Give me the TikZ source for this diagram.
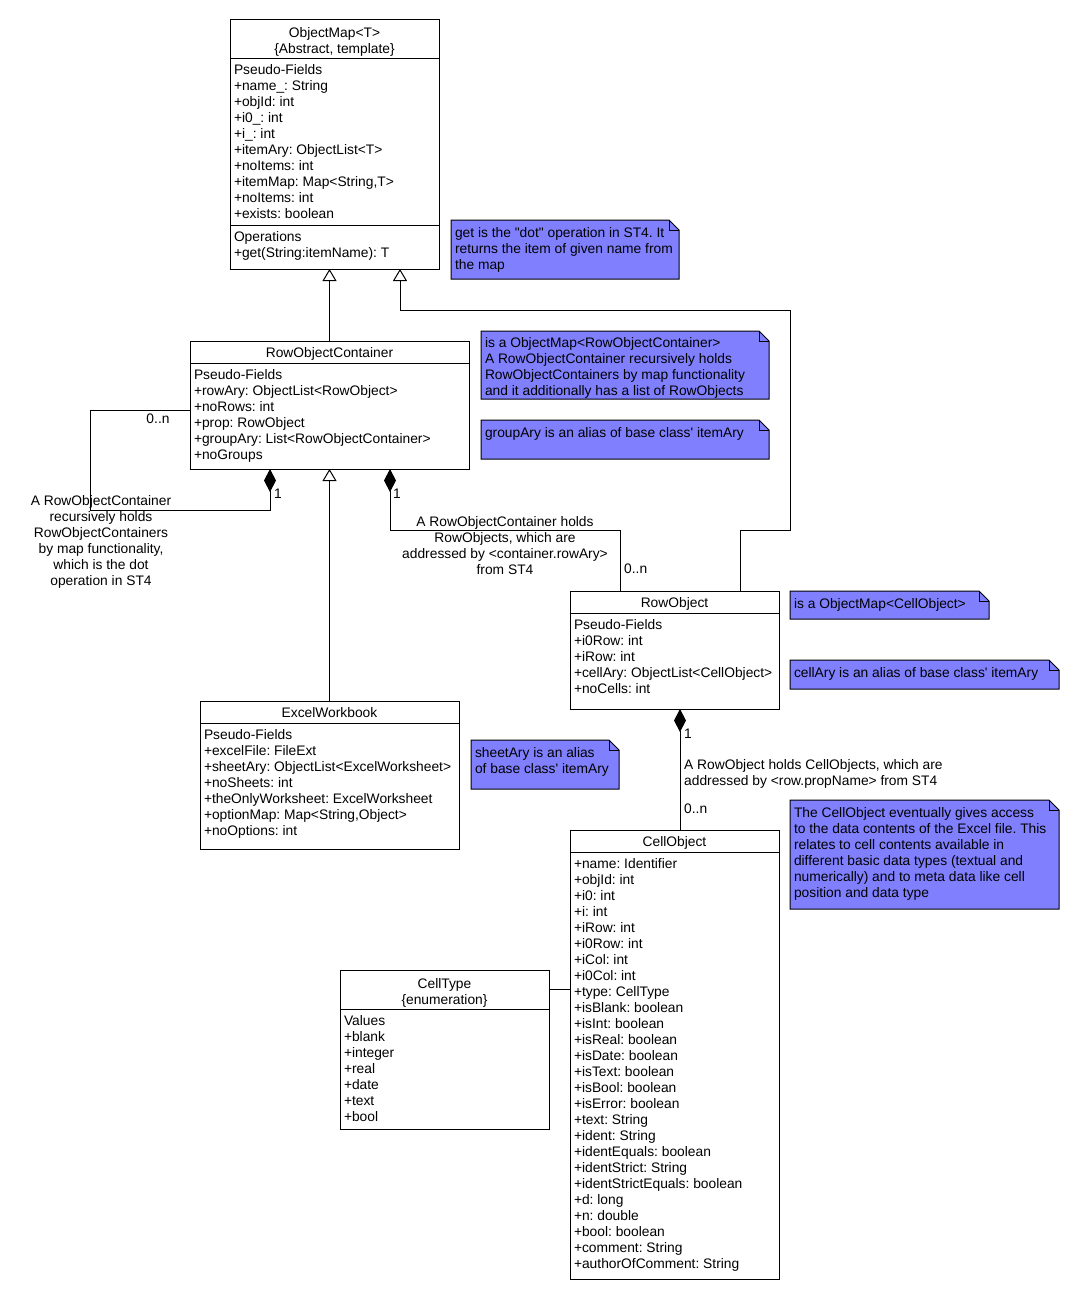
\documentclass[tikz,border=0pt]{standalone}
\usepackage{fontspec}
\newfontfamily\umlsans{Liberation Sans}
\usetikzlibrary{positioning,arrows.meta,backgrounds}
\frenchspacing

\definecolor{notecolor}{RGB}{128,128,255}
\newcommand{\umlfont}{\umlsans\fontsize{13.8}{16}\selectfont}
% compartments: height, width, first baseline, lines
\newcommand{\compleft}[4]{\parbox[c][#1][t]{#2}{\raggedright\rule{0pt}{#3}#4}}
\newcommand{\compmid}[4]{\parbox[c][#1][t]{#2}{\centering\rule{0pt}{#3}#4}}

\tikzset{
  classpart/.style={draw, line width=1pt, inner xsep=4pt, inner ysep=0pt, outer sep=0pt, font=\umlfont, anchor=north west},
  notebox/.style={inner xsep=4pt, inner ysep=0pt, outer sep=0pt, font=\umlfont, anchor=north west},
  notefill/.style={draw, fill=notecolor, line width=1pt},
  gen/.style={-{Triangle[open,length=12pt,width=14pt]}, line width=1pt},
  comp/.style={-{Diamond[length=23pt,width=12pt]}, line width=1pt},
  assoc/.style={line width=1pt},
  mult/.style={font=\umlfont, inner sep=0pt},
}

\begin{document}
\begin{tikzpicture}[x=1pt,y=-1pt]
   \useasboundingbox (0,0) rectangle (1080,1300);

   % classes
   \node[classpart] (om-t) at (230,20) {\compmid{39pt}{201pt}{18pt}{ObjectMap<T>\\\{Abstract, template\}}};
   \node[classpart, below=0pt of om-t] (om-f) {\compleft{166pt}{201pt}{16pt}{Pseudo-Fields\\+name\_: String\\+objId: int\\+i0\_: int\\+i\_: int\\+itemAry: ObjectList<T>\\+noItems: int\\+itemMap: Map<String,T>\\+noItems: int\\+exists: boolean}};
   \node[classpart, below=0pt of om-f] (om-o) {\compleft{44pt}{201pt}{16pt}{Operations\\+get(String:itemName): T}};

   \node[classpart] (roc-t) at (190,341) {\compmid{22pt}{271pt}{16pt}{RowObjectContainer}};
   \node[classpart, below=0pt of roc-t] (roc-f) {\compleft{106pt}{271pt}{16pt}{Pseudo-Fields\\+rowAry: ObjectList<RowObject>\\+noRows: int\\+prop: RowObject\\+groupAry: List<RowObjectContainer>\\+noGroups}};

   \node[classpart] (ro-t) at (570,591) {\compmid{22pt}{201pt}{16pt}{RowObject}};
   \node[classpart, below=0pt of ro-t] (ro-f) {\compleft{96pt}{201pt}{16pt}{Pseudo-Fields\\+i0Row: int\\+iRow: int\\+cellAry: ObjectList<CellObject>\\+noCells: int}};

   \node[classpart] (ew-t) at (200,701) {\compmid{22pt}{251pt}{16pt}{ExcelWorkbook}};
   \node[classpart, below=0pt of ew-t] (ew-f) {\compleft{126pt}{251pt}{16pt}{Pseudo-Fields\\+excelFile: FileExt\\+sheetAry: ObjectList<ExcelWorksheet>\\+noSheets: int\\+theOnlyWorksheet: ExcelWorksheet\\+optionMap: Map<String,Object>\\+noOptions: int}};

   \node[classpart] (co-t) at (570,830) {\compmid{22pt}{201pt}{16pt}{CellObject}};
   \node[classpart, below=0pt of co-t] (co-f) {\compleft{427pt}{201pt}{16pt}{+name: Identifier\\+objId: int\\+i0: int\\+i: int\\+iRow: int\\+i0Row: int\\+iCol: int\\+i0Col: int\\+type: CellType\\+isBlank: boolean\\+isInt: boolean\\+isReal: boolean\\+isDate: boolean\\+isText: boolean\\+isBool: boolean\\+isError: boolean\\+text: String\\+ident: String\\+identEquals: boolean\\+identStrict: String\\+identStrictEquals: boolean\\+d: long\\+n: double\\+bool: boolean\\+comment: String\\+authorOfComment: String}};

   \node[classpart] (ct-t) at (340,970) {\compmid{39pt}{201pt}{18pt}{CellType\\\{enumeration\}}};
   \node[classpart, below=0pt of ct-t] (ct-f) {\compleft{120pt}{201pt}{16pt}{Values\\+blank\\+integer\\+real\\+date\\+text\\+bool}};

   % notes
   \node[notebox] (n-get) at (451,220) {\compleft{59pt}{220pt}{17.5pt}{get is the "dot" operation in ST4. It\\returns the item of given name from\\the map}};
   \node[notebox] (n-roc) at (481,331) {\compleft{68pt}{280pt}{16.5pt}{is a ObjectMap<RowObjectContainer>\\A RowObjectContainer recursively holds\\RowObjectContainers by map functionality\\and it additionally has a list of RowObjects}};
   \node[notebox] (n-group) at (481,420) {\compleft{39pt}{280pt}{17.5pt}{groupAry is an alias of base class' itemAry}};
   \node[notebox] (n-row) at (790,591) {\compleft{28pt}{191pt}{17.5pt}{is a ObjectMap<CellObject>}};
   \node[notebox] (n-cell) at (790,660) {\compleft{29pt}{261pt}{17.5pt}{cellAry is an alias of base class' itemAry}};
   \node[notebox] (n-sheet) at (471,740) {\compleft{49pt}{140pt}{17.5pt}{sheetAry is an alias\\of base class' itemAry}};
   \node[notebox] (n-data) at (790,800) {\compleft{109pt}{261pt}{17.5pt}{The CellObject eventually gives access\\to the data contents of the Excel file. This\\relates to cell contents available in\\different basic data types (textual and\\numerically) and to meta data like cell\\position and data type}};

   % bends
   \coordinate (ro-up) at ([xshift=170pt]ro-t.north west);
   \coordinate (om-up) at ([xshift=170pt]om-o.south west);
   \coordinate (bend-a) at (790,530);
   \coordinate (bend-b) at (790,310);
   \coordinate (roc-self) at ([xshift=80pt]roc-f.south west);
   \coordinate (self-corner) at (90,510);
   \coordinate (roc-rows) at ([xshift=200pt]roc-f.south west);
   \coordinate (ro-in) at ([xshift=50pt]ro-t.north west);
   \coordinate (ro-cells) at ([xshift=110pt]ro-f.south west);

   % generalisations
   \draw[gen] (roc-t.north) -- (roc-t.north |- om-o.south);
   \draw[gen] (ew-t.north) -- (ew-t.north |- roc-f.south);
   \draw[gen] (ro-up) |- (bend-a) -- (bend-b) -| (om-up);

   % compositions
   \draw[comp] ([yshift=6pt]roc-f.west) -| (self-corner) -| (roc-self);
   \draw[comp] (ro-in) |- ([yshift=-61pt]roc-rows) -- (roc-rows);
   \draw[comp] (ro-cells |- co-t.north) -- (ro-cells);
   \draw[assoc] (ct-t.east) -- (ct-t.east -| co-f.west);

   % multiplicities and labels
   \node[mult] (m-self-n) at (158,419) {0..n};
   \node[mult] (m-self-1) at (278,494) {1};
   \node[mult] (m-rows-1) at (397,494) {1};
   \node[mult, anchor=west] (m-rows-n) at (624,569) {0..n};
   \node[mult, anchor=west] (m-cells-1) at (684,734) {1};
   \node[mult, anchor=west] (m-cells-n) at (684,809) {0..n};
   \node[mult, align=center] (l-self) at (101,542) {A RowObjectContainer\\recursively holds\\RowObjectContainers\\by map functionality,\\which is the dot\\operation in ST4};
   \node[mult, align=center] (l-rows) at (505,546) {A RowObjectContainer holds\\RowObjects, which are\\addressed by <container.rowAry>\\from ST4};
   \node[mult, align=left, anchor=west] (l-cells) at (684,774) {A RowObject holds CellObjects, which are\\addressed by <row.propName> from ST4};

   \begin{scope}[on background layer]
     \fill[white] (0,0) rectangle (1080,1300);
     \foreach \n in {n-get,n-roc,n-group,n-row,n-cell,n-sheet,n-data}{
       \draw[notefill] (\n.north west) -- ([xshift=-10pt]\n.north east) -- ([yshift=-10pt]\n.north east) -- (\n.south east) -- (\n.south west) -- cycle;
       \draw[line width=1pt] ([xshift=-10pt]\n.north east) |- ([yshift=-10pt]\n.north east);
     }
   \end{scope}
\end{tikzpicture}
\end{document}
